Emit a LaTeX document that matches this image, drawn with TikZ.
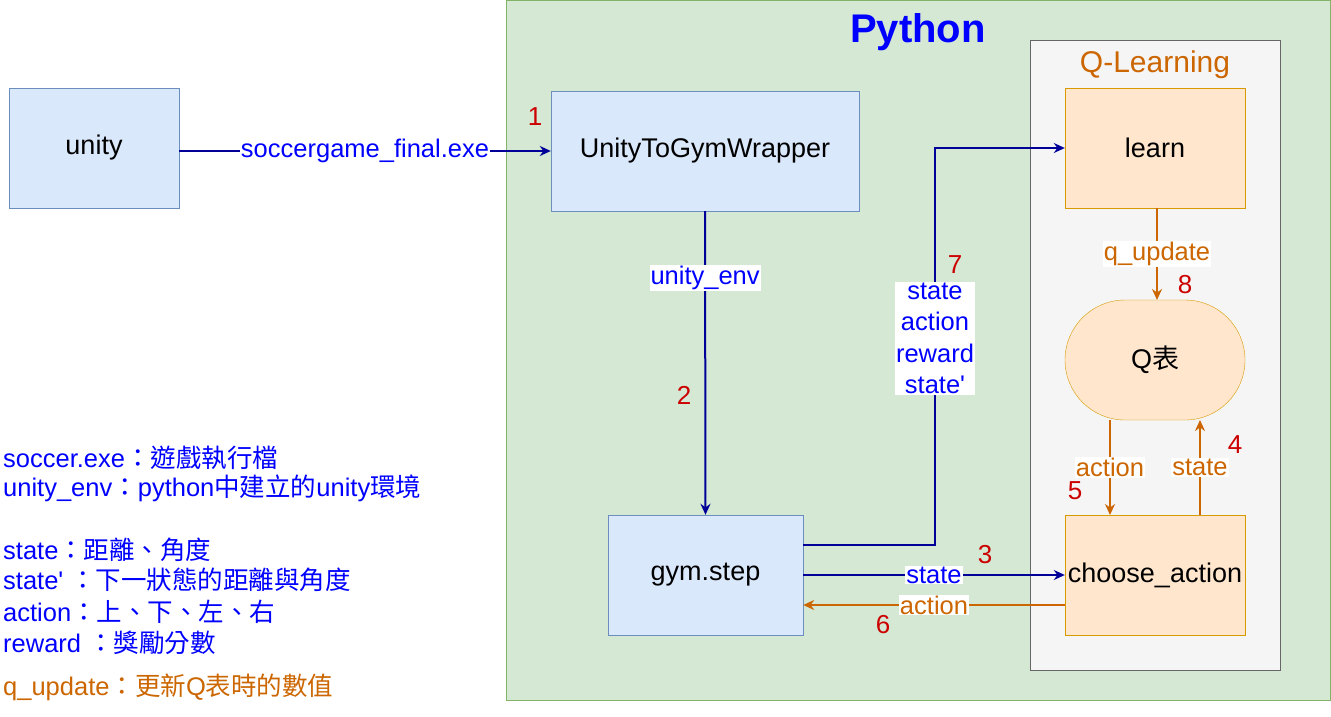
\documentclass[tikz,border=0pt]{standalone}
\usepackage{fontspec}
\setmainfont{Liberation Sans}[Ligatures=NoCommon]
\newfontfamily\cjk{Noto Sans CJK TC}
\usetikzlibrary{arrows.meta}
\definecolor{gfill}{HTML}{D5E8D4}\definecolor{gdraw}{HTML}{82B366}
\definecolor{bfill}{HTML}{DAE8FC}\definecolor{bdraw}{HTML}{6C8EBF}
\definecolor{ofill}{HTML}{FFE6CC}\definecolor{odraw}{HTML}{D79B00}
\definecolor{darr}{HTML}{000099}\definecolor{oarr}{HTML}{CC6600}
\definecolor{rnum}{HTML}{CC0000}\definecolor{btxt}{HTML}{0000FF}
\begin{document}
\begin{tikzpicture}[x=1pt,y=-1pt,
  bbox/.style={draw=bdraw,fill=bfill,font=\fontsize{27}{32}\selectfont},
  obox/.style={draw=odraw,fill=ofill,font=\fontsize{27}{32}\selectfont},
  barr/.style={draw=darr,line width=2pt,-{Stealth[length=11pt,width=10pt]}},
  oarrow/.style={draw=oarr,line width=2pt,-{Stealth[length=11pt,width=10pt]}},
  blab/.style={fill=white,text=btxt,inner sep=1pt,font=\fontsize{25.5}{30}\selectfont},
  olab/.style={fill=white,text=oarr,inner sep=1pt,font=\fontsize{25.5}{30}\selectfont},
  num/.style={text=rnum,font=\fontsize{26}{30}\selectfont},
  leg/.style={text=btxt,anchor=west,inner sep=0pt,font=\fontsize{25.5}{30}\selectfont}]
\useasboundingbox (0,0) rectangle (1331,716);
\fill[gfill] (506,0) rectangle (1331,700);
\draw[gdraw] (506.5,0.5) rectangle (1330.5,700);
\node[text=btxt,font=\bfseries\fontsize{40}{44}\selectfont] (py) at (918,32) {Python};
\draw[draw=black!60,fill=black!4] (1030,40) rectangle (1280,670);
\node[text=oarr,font=\fontsize{30}{34}\selectfont] (ql) at (1155,65) {Q-Learning};
\node[bbox,minimum width=170pt,minimum height=120pt] (unity) at (94,148) {unity};
\node[bbox,minimum width=308pt,minimum height=120pt] (wrap) at (705,151) {UnityToGymWrapper};
\node[bbox,minimum width=195pt,minimum height=120pt] (gym) at (705.5,575) {gym.step};
\node[obox,minimum width=180pt,minimum height=120pt] (learn) at (1155,148) {learn};
\node[obox,minimum width=180pt,minimum height=120pt,rounded corners=60pt] (q) at (1155,360) {Q{\cjk 表}};
\node[obox,minimum width=180pt,minimum height=120pt,inner sep=0pt] (ch) at (1155,575) {choose\_action};
\draw[barr] (unity.east|-0,151) -- node[blab]{soccergame\_final.exe} (wrap.west|-0,151);
\draw[barr] (wrap.south) -- node[blab,pos=0.22]{unity\_env} (gym.north);
\draw[barr] (gym.east|-0,545) -- (935,545) -- node[blab,pos=0.52,align=center,font=\fontsize{25.5}{31.5}\selectfont]{state\\action\\reward\\state\textquotesingle} (935,148) -- (learn.west|-0,148);
\draw[barr] (gym.east|-0,575) -- node[blab,pos=0.5]{state} (ch.west|-0,575);
\draw[oarrow] (ch.west|-0,605) -- node[olab,pos=0.5]{action} (gym.east|-0,605);
\draw[oarrow] (1157,208) -- node[olab]{q\_update} (1157,300);
\draw[oarrow] (1110,420) -- node[olab]{action} (1110,515);
\draw[oarrow] (1200,515) -- node[olab]{state} (1200,420);
\node[num] (n1) at (535,117) {1};
\node[num] (n2) at (684,395) {2};
\node[num] (n3) at (985,555) {3};
\node[num] (n4) at (1235,445) {4};
\node[num] (n5) at (1075,491) {5};
\node[num] (n6) at (883,625) {6};
\node[num] (n7) at (955,265) {7};
\node[num] (n8) at (1185,285) {8};
\node[leg] (l1) at (3,458) {soccer.exe{\cjk ：遊戲執行檔}};
\node[leg] (l2) at (3,488) {unity\_env{\cjk ：}python{\cjk 中建立的}unity{\cjk 環境}};
\node[leg] (l3) at (3,550) {state{\cjk ：距離、角度}};
\node[leg] (l4) at (3,580) {state\textquotesingle\ {\cjk ：下一狀態的距離與角度}};
\node[leg] (l5) at (3,612) {action{\cjk ：上、下、左、右}};
\node[leg] (l6) at (3,643) {reward {\cjk ：獎勵分數}};
\node[leg,text=oarr] (l7) at (3,687) {q\_update{\cjk ：更新}Q{\cjk 表時的數值}};
\end{tikzpicture}
\end{document}
